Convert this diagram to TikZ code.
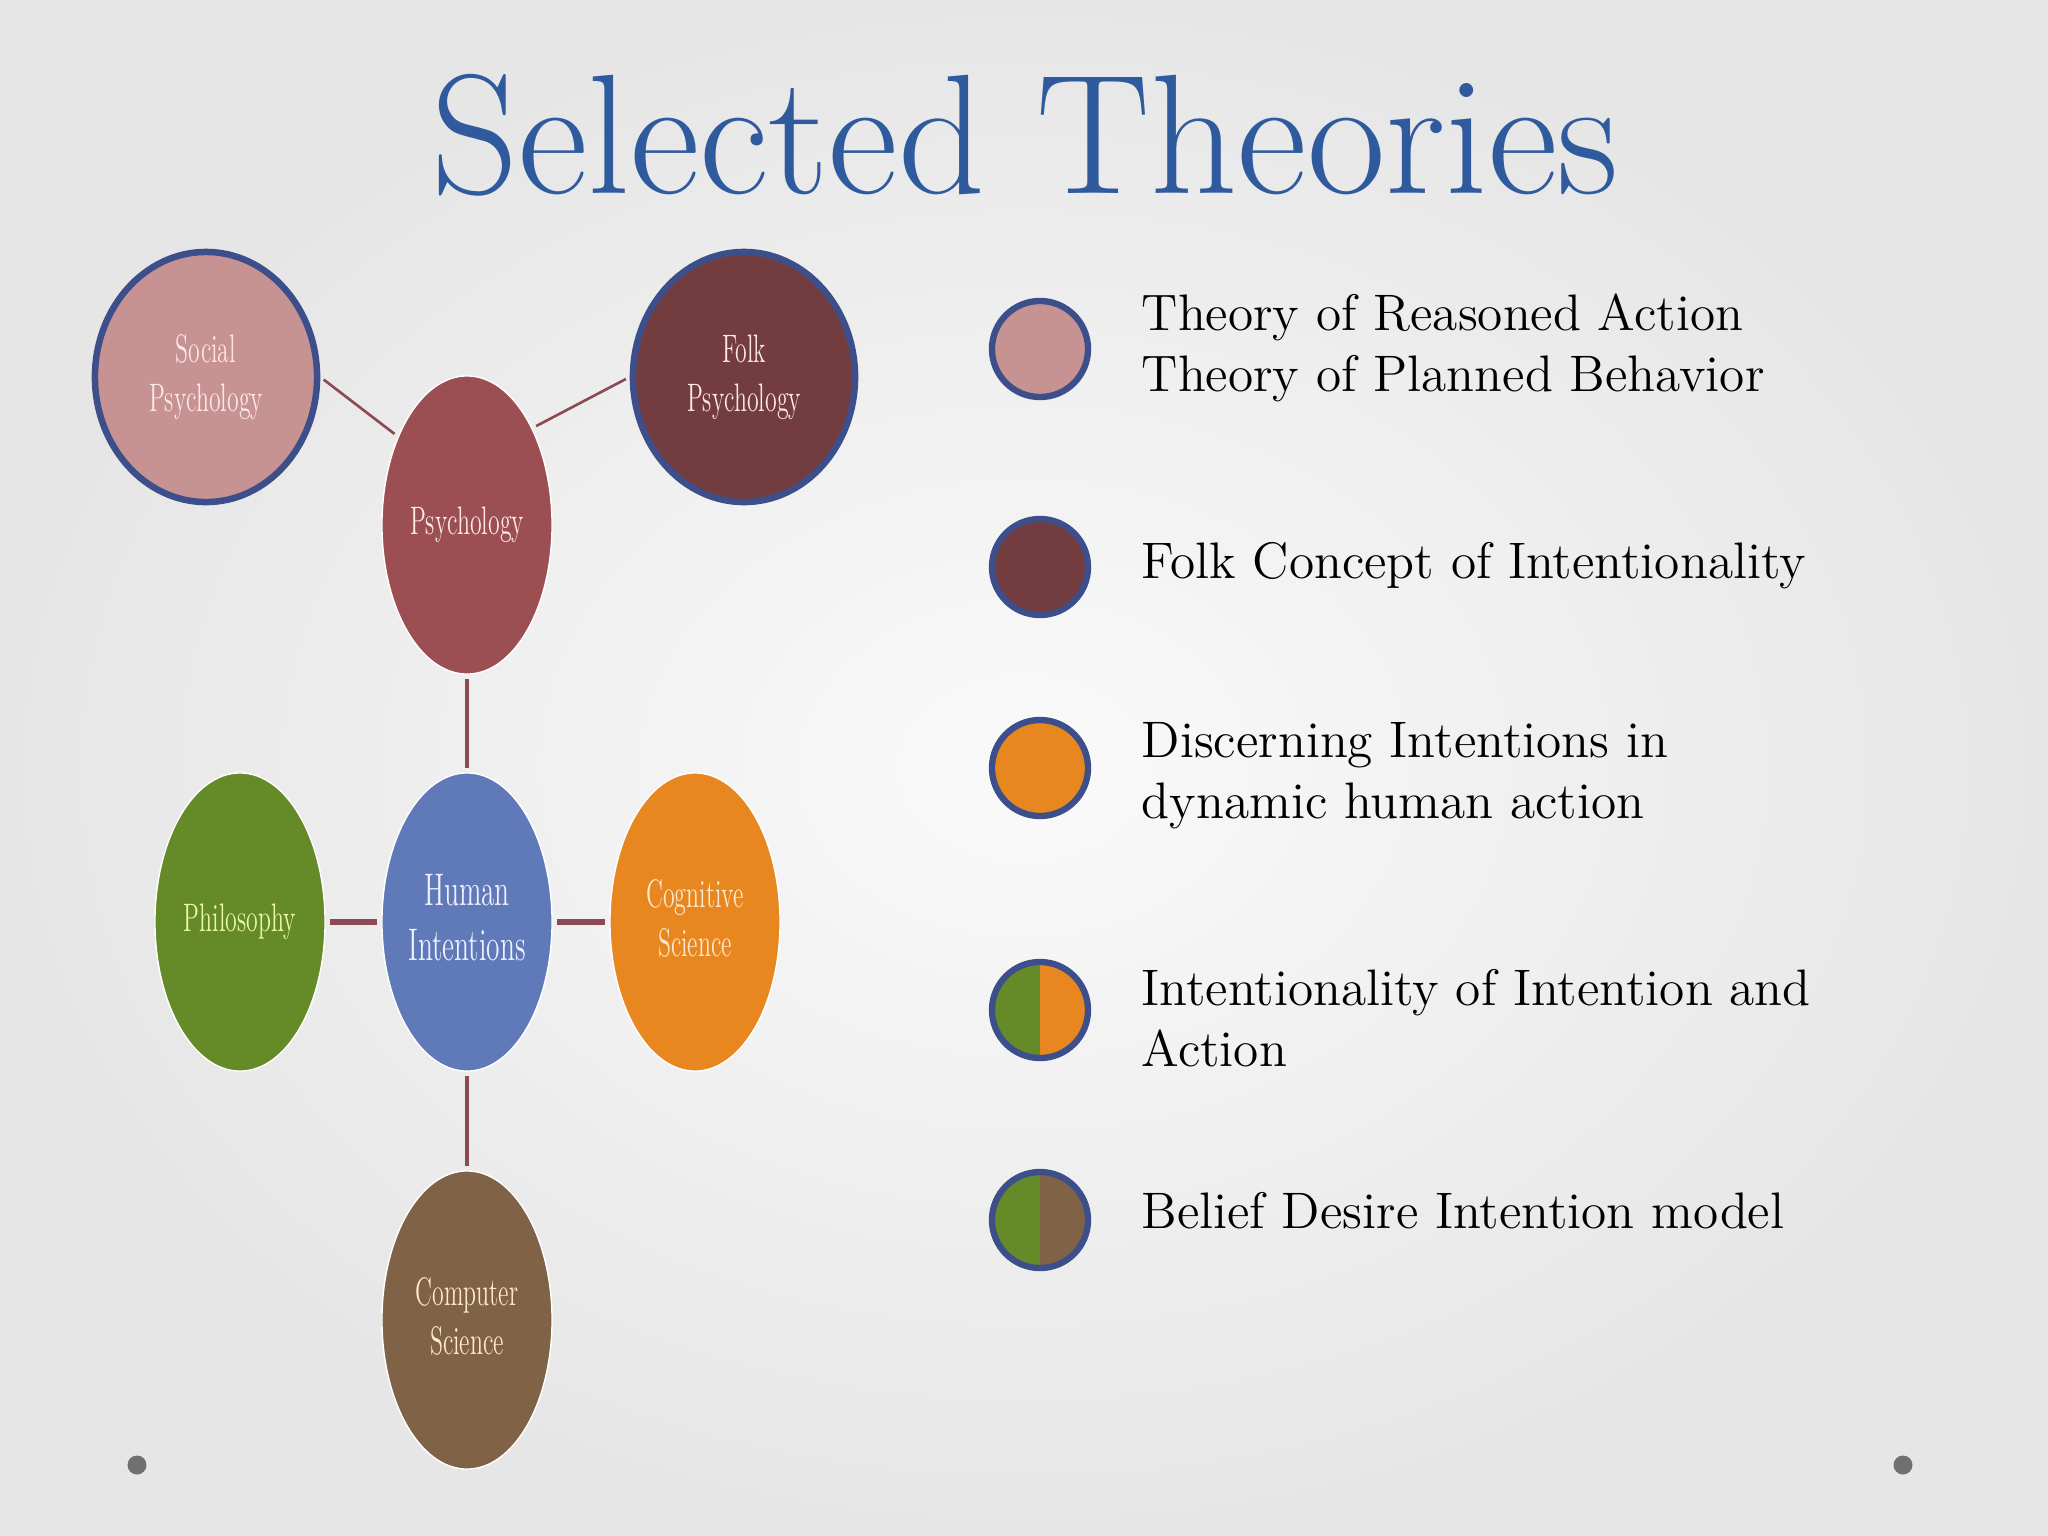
\documentclass[tikz,border=0pt]{standalone}
\usepackage{tikz}
\usepackage{xcolor}
\usetikzlibrary{shapes.geometric}

\definecolor{titleblue}{HTML}{2F5B9E}
\definecolor{rimblue}{HTML}{3D4F8A}
\definecolor{socpink}{HTML}{C69292}
\definecolor{folkred}{HTML}{733D40}
\definecolor{psyred}{HTML}{9C4F52}
\definecolor{humblue}{HTML}{5F79B9}
\definecolor{philgreen}{HTML}{648B27}
\definecolor{cogorange}{HTML}{E8861F}
\definecolor{compbrown}{HTML}{806246}
\definecolor{linkred}{HTML}{8C4A52}
\definecolor{dotgray}{HTML}{707070}
\definecolor{pinktext}{HTML}{FDE8E4}
\definecolor{limetext}{HTML}{EAF8A8}
\definecolor{creamtext}{HTML}{FDEAD0}
\definecolor{bluetext}{HTML}{EEF0FF}
\definecolor{paper}{HTML}{FAFAFA}
\definecolor{paperedge}{HTML}{E6E6E6}

\newcommand{\narrow}[1]{\scalebox{0.6}[1]{\begin{tabular}{@{}c@{}}#1\end{tabular}}}

\begin{document}
\begin{tikzpicture}[
  x=0.01cm, y=-0.01cm,
  blob/.style={ellipse,inner sep=0pt,minimum width=1.7cm,minimum height=2.98cm,draw=white,line width=0.4pt,font=\fontsize{11.3}{14}\selectfont},
  rimblob/.style={blob,draw=rimblue,line width=1.85pt,minimum width=2.22cm,minimum height=2.5cm},
  link/.style={draw=linkred,shorten <=1.2pt,shorten >=1.2pt},
  legdot/.style={circle,draw=rimblue,line width=1.8pt,minimum size=0.96cm,inner sep=0pt},
  halfgreen/.style={path picture={\fill[philgreen] (path picture bounding box.south west) rectangle (path picture bounding box.north);}},
  legtext/.style={anchor=west,align=left,inner sep=0pt,font=\fontsize{14.6}{17.4}\selectfont}
]
  \shade[inner color=paper,outer color=paperedge] (0,0) rectangle (2048,1536);
  \useasboundingbox (0,0) rectangle (2048,1536);

  \node[text=titleblue,font=\fontsize{48.5}{52}\selectfont,anchor=base] (title) at (1025,193) {Selected Theories};

  \node[rimblob,fill=socpink,text=pinktext] (soc) at (206,377) {\narrow{Social\\Psychology}};
  \node[rimblob,fill=folkred,text=pinktext] (folk) at (744,377) {\narrow{Folk\\Psychology}};
  \node[blob,fill=psyred,text=pinktext] (psy) at (467,525) {\narrow{Psychology}};
  \node[blob,fill=humblue,text=bluetext,font=\fontsize{13}{15.6}\selectfont] (hum) at (467,922) {\narrow{Human\\Intentions}};
  \node[blob,fill=philgreen,text=limetext] (phil) at (240,922) {\narrow{Philosophy}};
  \node[blob,fill=cogorange,text=creamtext] (cog) at (695,922) {\narrow{Cognitive\\Science}};
  \node[blob,fill=compbrown,text=creamtext] (comp) at (467,1320) {\narrow{Computer\\Science}};

  \draw[link,line width=0.75pt] (soc.east) -- (psy.128);
  \draw[link,line width=0.75pt] (folk.west) -- (psy.56);
  \draw[link,line width=1.1pt] (psy) -- (hum);
  \draw[link,line width=1.9pt] (phil) -- (hum);
  \draw[link,line width=1.9pt] (hum) -- (cog);
  \draw[link,line width=1.1pt] (hum) -- (comp);

  \node[legdot,fill=socpink] (key1) at (1040,349) {};
  \node[legdot,fill=folkred] (key2) at (1040,567) {};
  \node[legdot,fill=cogorange] (key3) at (1040,768) {};
  \node[legdot,fill=cogorange,halfgreen] (key4) at (1040,1010) {};
  \node[legdot,fill=compbrown,halfgreen] (key5) at (1040,1220) {};

  \node[legtext] (key1txt) at (1141,348) {Theory of Reasoned Action\\Theory of Planned Behavior};
  \node[legtext] (key2txt) at (1141,566) {Folk Concept of Intentionality};
  \node[legtext] (key3txt) at (1141,776) {Discerning Intentions in\\dynamic human action};
  \node[legtext] (key4txt) at (1141,1018) {Intentionality of Intention and\\Action};
  \node[legtext] (key5txt) at (1141,1211) {Belief Desire Intention model};

  \node[circle,fill=dotgray,minimum size=5.4pt,inner sep=0pt] (dotl) at (137,1465) {};
  \node[circle,fill=dotgray,minimum size=5.4pt,inner sep=0pt] (dotr) at (1903,1465) {};
\end{tikzpicture}
\end{document}
